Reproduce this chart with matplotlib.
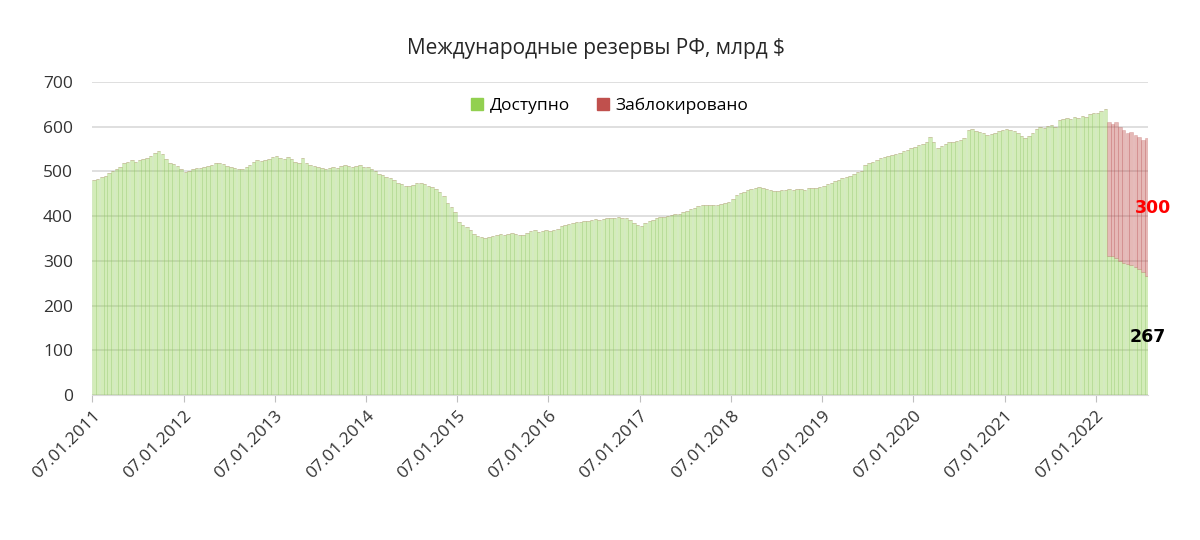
import datetime as dt

import matplotlib
matplotlib.use("Agg")
import matplotlib.pyplot as plt
from matplotlib.patches import Patch

plt.rcParams["font.family"] = ["Open Sans", "DejaVu Sans"]

# резервы, млрд $, значения на 7-е и 21-е число каждого месяца
r2011 = [480, 483, 488, 490, 497, 502, 505, 510, 518, 522, 525, 522,
         526, 528, 530, 535, 542, 545, 540, 528, 518, 516, 512, 505]
r2012 = [498, 502, 505, 507, 508, 510, 512, 515, 518, 520, 516, 512,
         510, 508, 506, 505, 510, 515, 522, 525, 524, 526, 528, 532]
r2013 = [535, 530, 528, 532, 527, 522, 518, 530, 520, 515, 512, 510,
         508, 506, 508, 510, 508, 512, 514, 512, 510, 512, 514, 510]
r2014 = [510, 505, 500, 495, 492, 488, 485, 480, 475, 472, 468, 467,
         470, 474, 475, 472, 468, 465, 460, 455, 445, 430, 420, 410]
r2015 = [388, 380, 375, 368, 360, 356, 354, 352, 353, 356, 358, 360,
         359, 360, 362, 360, 357, 358, 362, 366, 368, 364, 366, 368]
r2016 = [366, 368, 372, 378, 380, 382, 385, 388, 388, 390, 390, 392,
         393, 392, 394, 396, 397, 396, 398, 396, 395, 392, 385, 380]
r2017 = [378, 385, 390, 392, 395, 398, 398, 400, 402, 404, 406, 410,
         412, 415, 418, 422, 424, 425, 424, 425, 426, 428, 430, 432]
r2018 = [438, 448, 452, 455, 458, 460, 462, 465, 462, 460, 458, 456,
         457, 458, 458, 460, 458, 460, 460, 459, 462, 462, 463, 465]
r2019 = [468, 472, 475, 478, 482, 486, 488, 490, 494, 498, 500, 515,
         518, 522, 526, 530, 533, 535, 538, 540, 542, 545, 548, 552]
r2020 = [555, 560, 562, 566, 578, 565, 552, 558, 562, 565, 566, 568,
         570, 575, 592, 595, 590, 588, 585, 582, 583, 585, 590, 593]
r2021 = [595, 592, 590, 585, 580, 575, 580, 585, 595, 600, 598, 602,
         605, 600, 615, 618, 620, 618, 622, 620, 625, 622, 628, 630]
r2022 = [630, 635, 640, 312, 310, 306, 300, 296, 292, 290, 287, 282, 276, 267]

# всего (доступно + заблокировано) после заморозки
total_2022 = [611, 606, 610, 600, 592, 586, 588, 582, 578, 570, 574]

available = (r2011 + r2012 + r2013 + r2014 + r2015 + r2016 + r2017 + r2018
             + r2019 + r2020 + r2021 + r2022)

dates = []
for y in range(2011, 2023):
    for m in range(1, 13):
        for d in (7, 21):
            if len(dates) < len(available):
                dates.append(dt.date(y, m, d))

n_free = len(available) - len(total_2022)
blocked = [0] * n_free + [t - a for t, a in zip(total_2022, available[n_free:])]

fig = plt.figure(figsize=(12, 5.4), dpi=100)
ax = fig.add_axes([0.077, 0.2685, 0.880, 0.5795])

ax.bar(dates, available, width=14, align="edge", color="#92d050", alpha=0.4,
       edgecolor="#8cc865", linewidth=0.4, zorder=2)
ax.bar(dates, blocked, bottom=available, width=14, align="edge", color="#c0504d",
       alpha=0.4, edgecolor="#b85050", linewidth=0.4, zorder=2)

ax.set_ylim(0, 700)
ax.set_yticks(range(0, 701, 100))
ax.set_xlim(dt.date(2011, 1, 7), dt.date(2022, 8, 5))
ax.grid(axis="y", color="#d9d9d9", linewidth=1.2, zorder=0)
ax.set_axisbelow(True)

for s in ("left", "right", "top"):
    ax.spines[s].set_visible(False)
ax.spines["bottom"].set_color("#d9d9d9")

xt = [dt.date(y, 1, 7) for y in range(2011, 2023)]
ax.set_xticks(xt)
ax.set_xticklabels([d.strftime("%d.%m.%Y") for d in xt], rotation=45,
                   ha="right", rotation_mode="anchor")
ax.tick_params(axis="x", length=5, color="#bfbfbf", labelsize=12.5,
               labelcolor="#333333", pad=4)
ax.tick_params(axis="y", length=0, labelsize=12.5, labelcolor="#333333", pad=14)

ax.text(dt.date(2022, 8, 22), 418, "300", color="#ff0000", fontsize=12.5,
        fontweight="bold", ha="center", va="center", family="DejaVu Sans")
ax.text(dt.date(2022, 8, 1), 130, "267", color="black", fontsize=12.5,
        fontweight="bold", ha="center", va="center", family="DejaVu Sans")

fig.text(0.497, 0.91, "Международные резервы РФ, млрд $", ha="center",
         va="center", fontsize=15, color="#262626")

handles = [Patch(color="#92d050", label="Доступно"),
           Patch(color="#c0504d", label="Заблокировано")]
ax.legend(handles=handles, loc="upper center", bbox_to_anchor=(0.49, 1.0),
          ncol=2, frameon=False, fontsize=12.5, handlelength=0.7,
          handleheight=0.7, columnspacing=1.5, handletextpad=0.4)

fig.savefig("out.png", dpi=100)
